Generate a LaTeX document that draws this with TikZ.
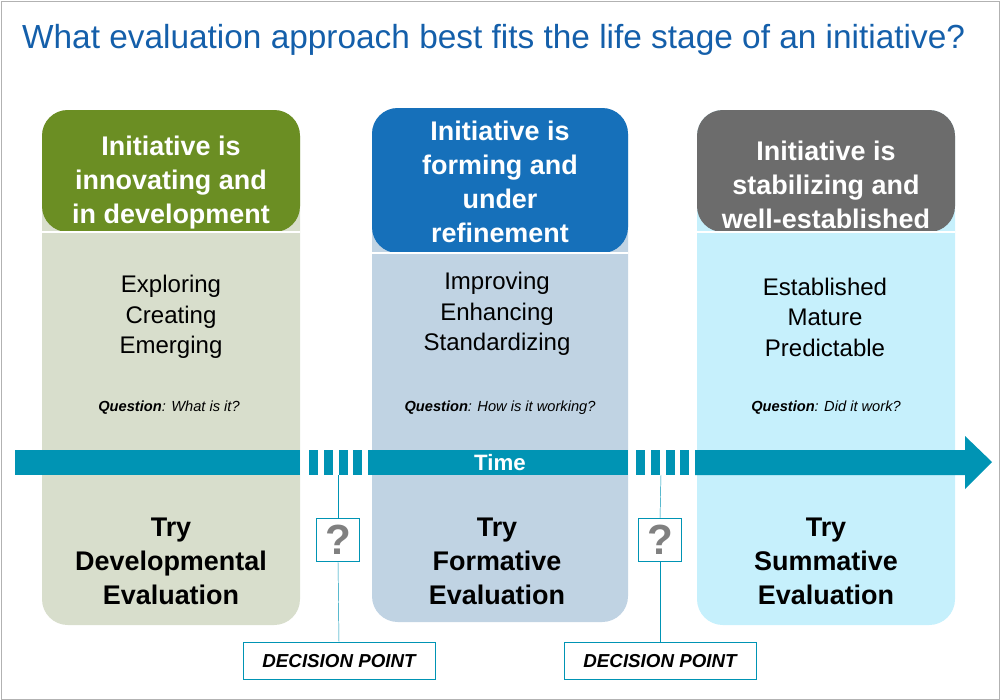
\documentclass[tikz,border=0pt]{standalone}
\usepackage{fontspec}
\setmainfont{Liberation Sans}
\usepackage{xcolor}
\usetikzlibrary{positioning}

\definecolor{titleblue}{RGB}{20,95,170}
\definecolor{timeteal}{RGB}{0,148,180}
\definecolor{greenhead}{RGB}{107,142,35}
\definecolor{greenbody}{RGB}{216,222,204}
\definecolor{bluehead}{RGB}{22,112,186}
\definecolor{bluebody}{RGB}{192,211,227}
\definecolor{grayhead}{RGB}{108,108,108}
\definecolor{cyanbody}{RGB}{198,240,252}

\tikzset{
  headtext/.style={text=white, font=\fontsize{23}{29}\selectfont\bfseries, align=center},
  stagetext/.style={font=\fontsize{20.5}{26}\selectfont, align=center},
  asktext/.style={font=\fontsize{12.5}{14}\selectfont\itshape},
  trytext/.style={font=\fontsize{23}{29}\selectfont\bfseries, align=center},
  qbox/.style={draw=timeteal, fill=white, minimum width=1.3cm, minimum height=1.3cm, inner sep=0pt},
  dpbox/.style={draw=timeteal, fill=white, minimum width=5.75cm, minimum height=1.1cm,
    font=\fontsize{16}{18}\selectfont\bfseries\itshape},
  tick/.style={fill=timeteal}
}

\begin{document}
\begin{tikzpicture}[x=0.03cm,y=-0.03cm]

\useasboundingbox (0,0) rectangle (1000,700);
\draw[gray!60] (1,1) rectangle (999,699);

\node[anchor=west, text=titleblue, font=\fontsize{28.5}{32}\selectfont] (title) at (18,40)
  {What evaluation approach best fits the life stage of an initiative?};

% ------------------------------------------------------

% panel bodies
\fill[greenbody, rounded corners=22] (42,110) rectangle (300,625);
\fill[bluebody, rounded corners=22] (372,108) rectangle (628,622);
\fill[cyanbody, rounded corners=22] (697,110) rectangle (955,625);

% panel headers
\fill[greenhead, rounded corners=22] (42,232) |- (300,110) -- (300,232) -- cycle;
\fill[bluehead, rounded corners=22] (372,253) |- (628,108) -- (628,253) -- cycle;
\fill[grayhead, rounded corners=22] (697,232) |- (955,110) -- (955,232) -- cycle;
\draw[white, line width=1.5] (42,232) -- (300,232) (372,253) -- (628,253) (697,232) -- (955,232);

\node[headtext] (headA) at (171,183) {Initiative is\\innovating and\\in development};
\node[headtext] (headB) at (500,182) {Initiative is\\forming and\\under\\refinement};
\node[headtext] (headC) at (826,185) {Initiative is\\stabilizing and\\well-established};

\node[stagetext] (wordsA) at (171,317) {Exploring\\Creating\\Emerging};
\node[stagetext] (wordsB) at (497,314) {Improving\\Enhancing\\Standardizing};
\node[stagetext] (wordsC) at (825,317) {Established\\Mature\\Predictable};

\node[asktext] (askA) at (169,408) {\textbf{Question}: What is it?};
\node[asktext] (askB) at (500,408) {\textbf{Question}: How is it working?};
\node[asktext] (askC) at (826,408) {\textbf{Question}: Did it work?};

% ------------------------------------------------------

% time bar
\fill[timeteal] (15,450) rectangle (300,475);
\fill[timeteal] (368,450) rectangle (628,475);
\fill[timeteal] (695,450) -- (965,450) -- (965,436) -- (992,462) -- (965,489) -- (965,475) -- (695,475) -- cycle;
\foreach \x in {309,324,339,353,636,651,666,680}
  \fill[tick] (\x,450) rectangle (\x+9,475);
\node[text=white, font=\fontsize{19}{22}\selectfont\bfseries] (time) at (500,463) {Time};

\coordinate (markA) at (338,475);
\coordinate (markB) at (661,475);

\node[trytext] (tryA) at (171,561) {Try\\Developmental\\Evaluation};
\node[trytext] (tryB) at (497,561) {Try\\Formative\\Evaluation};
\node[trytext] (tryC) at (826,561) {Try\\Summative\\Evaluation};

% decision points
\node[qbox] (askboxA) at (338,540) {\fontsize{36}{36}\selectfont\bfseries\color{gray}?};
\node[qbox] (askboxB) at (660,540) {\fontsize{36}{36}\selectfont\bfseries\color{gray}?};
\node[dpbox] (pointA) at (339,661) {DECISION POINT};
\node[dpbox] (pointB) at (660,661) {DECISION POINT};

\draw[timeteal] (markA) -- (askboxA.north);
\draw[timeteal] (markB) -- (askboxB.north);
\draw[timeteal] (askboxA.south) -- (pointA.north);
\draw[timeteal] (askboxB.south) -- (pointB.north);

\end{tikzpicture}
\end{document}
